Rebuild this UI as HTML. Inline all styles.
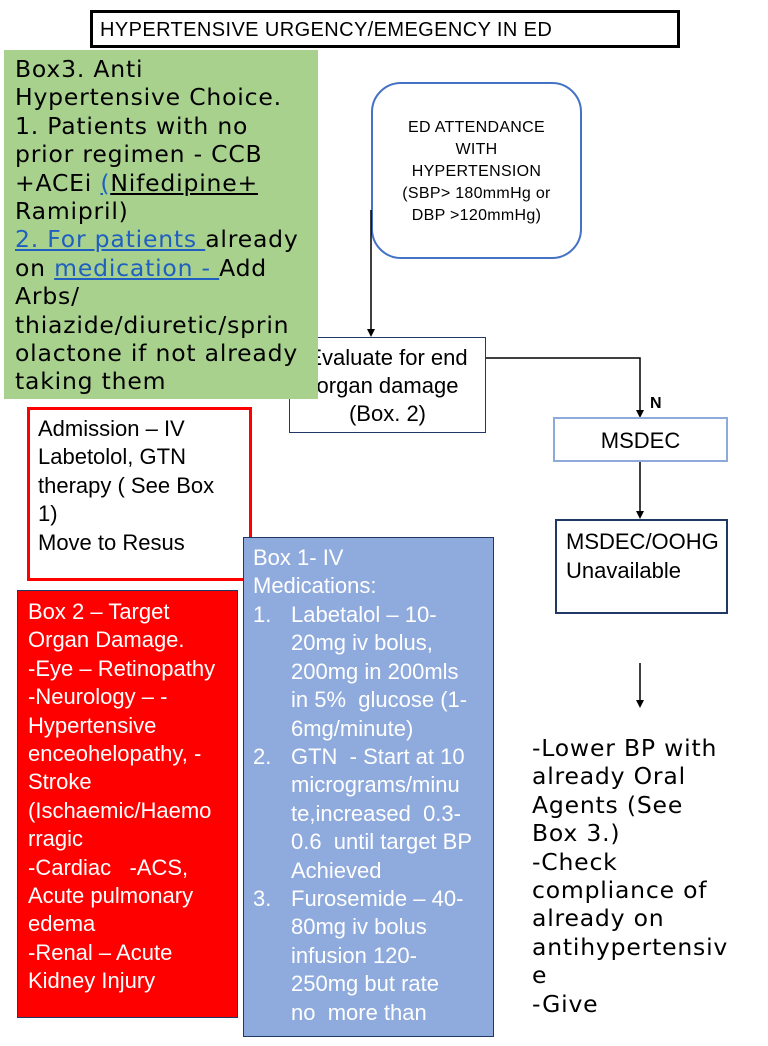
<!DOCTYPE html>
<html><head><meta charset="utf-8"><style>
body{margin:0;width:768px;height:1024px;position:relative;overflow:hidden;background:#fff;font-family:"Liberation Sans",sans-serif}
.a{position:absolute;box-sizing:border-box}
.l{position:absolute;white-space:nowrap;line-height:1}
.c{font-family:"Liberation Sans",sans-serif;font-size:22px;letter-spacing:0}
.d{font-family:"DejaVu Sans",sans-serif;font-size:23.5px;letter-spacing:0.8px}
.u{color:#1f5fbf;text-decoration:underline}
</style></head><body>
<div class="a" style="left:90px;top:10px;width:590px;height:38px;border:3px solid #000"></div>
<div class="l c" style="left:100px;top:20px;font-size:20px;letter-spacing:0.4px">HYPERTENSIVE URGENCY/EMEGENCY IN ED</div>

<!-- ED box -->
<div class="a" style="left:371px;top:82px;width:211px;height:177px;border:2.5px solid #4472c4;border-radius:30px"></div>
<div class="a" style="left:371px;top:117px;width:211px;text-align:center;font-size:16px;line-height:22px;letter-spacing:0.3px">ED ATTENDANCE<br>WITH<br>HYPERTENSION<br>(SBP&gt; 180mmHg or<br>DBP &gt;120mmHg)</div>

<svg class="a" style="left:0;top:0" width="768" height="1024">
<g stroke="#000" stroke-width="1.5" fill="none">
<line x1="371" y1="210" x2="371" y2="330"/>
<polyline points="485,358 640,358 640,411"/>
<line x1="640" y1="461" x2="640" y2="512"/>
<line x1="640" y1="663" x2="640" y2="700"/>
</g>
<g fill="#000">
<path d="M367,329 L375,329 L371,337z"/>
<path d="M636,410 L644,410 L640,418z"/>
<path d="M636,511 L644,511 L640,519z"/>
<path d="M636,700 L644,700 L640,708z"/>
</g></svg>

<!-- Evaluate box -->
<div class="a" style="left:289px;top:337px;width:197px;height:96px;border:1.5px solid #203864"></div>
<div class="a c" style="left:289px;top:344px;width:197px;text-align:center;line-height:28px">Evaluate for end<br>organ damage<br>(Box. 2)</div>
<div class="l" style="left:650px;top:396px;font-weight:bold;font-size:16px">N</div>

<!-- MSDEC -->
<div class="a" style="left:553px;top:417px;width:175px;height:45px;border:2px solid #8eaadb"></div>
<div class="a c" style="left:553px;top:428px;width:175px;text-align:center">MSDEC</div>
<div class="a" style="left:555px;top:519px;width:173px;height:95px;border:2px solid #203864"></div>
<div class="a c" style="left:566px;top:528px;line-height:28.5px">MSDEC/OOHG<br>Unavailable</div>

<div class="a d" style="left:532px;top:734px;line-height:28.4px;white-space:nowrap">-Lower BP with<br>already Oral<br>Agents (See<br>Box 3.)<br>-Check<br>compliance of<br>already on<br>antihypertensiv<br>e<br>-Give<br>&nbsp;</div>

<!-- green -->
<div class="a" style="left:4px;top:50px;width:314px;height:349px;background:#a9d18e"></div>
<div class="a d" style="left:15px;top:55px;line-height:28.4px;white-space:nowrap">Box3. Anti<br>Hypertensive Choice.<br>1. Patients with no<br>prior regimen - CCB<br>+ACEi <span class="u">(</span><span style="text-decoration:underline">Nifedipine+</span><br>Ramipril)<br><span class="u">2. For patients </span>already<br>on <span class="u">medication - </span>Add<br>Arbs/<br>thiazide/diuretic/sprin<br>olactone if not already<br>taking them</div>

<!-- red bordered -->
<div class="a" style="left:27px;top:407px;width:225px;height:174px;border:3px solid #f00;background:#fff"></div>
<div class="a c" style="left:38px;top:415px;line-height:28.4px;white-space:nowrap">Admission – IV<br>Labetolol, GTN<br>therapy ( See Box<br>1)<br>Move to Resus</div>

<!-- red -->
<div class="a" style="left:17px;top:590px;width:221px;height:428px;background:#f00;border:1.5px solid #203864"></div>
<div class="a c" style="left:28px;top:598px;line-height:28.4px;white-space:nowrap;color:#fff">Box 2 – Target<br>Organ Damage.<br>-Eye – Retinopathy<br>-Neurology – -<br>Hypertensive<br>enceohelopathy, -<br>Stroke<br>(Ischaemic/Haemo<br>rragic<br>-Cardiac &nbsp;&nbsp;-ACS,<br>Acute pulmonary<br>edema<br>-Renal – Acute<br>Kidney Injury</div>

<!-- blue -->
<div class="a" style="left:243px;top:537px;width:251px;height:500px;background:#8faadc;border:1.5px solid #203864"></div>
<div class="a c" style="left:253px;top:544px;line-height:28.4px;white-space:nowrap;color:#fff">Box 1- IV<br>Medications:<br>1.<br><br><br><br><br>2.<br><br><br><br><br>3.</div>
<div class="a c" style="left:291px;top:601px;line-height:28.4px;white-space:nowrap;color:#fff">Labetalol – 10-<br>20mg iv bolus,<br>200mg in 200mls<br>in 5% &nbsp;glucose (1-<br>6mg/minute)<br>GTN &nbsp;- Start at 10<br>micrograms/minu<br>te,increased &nbsp;0.3-<br>0.6 &nbsp;until target BP<br>Achieved<br>Furosemide – 40-<br>80mg iv bolus<br>infusion 120-<br>250mg but rate<br>no &nbsp;more than</div>
</body></html>
